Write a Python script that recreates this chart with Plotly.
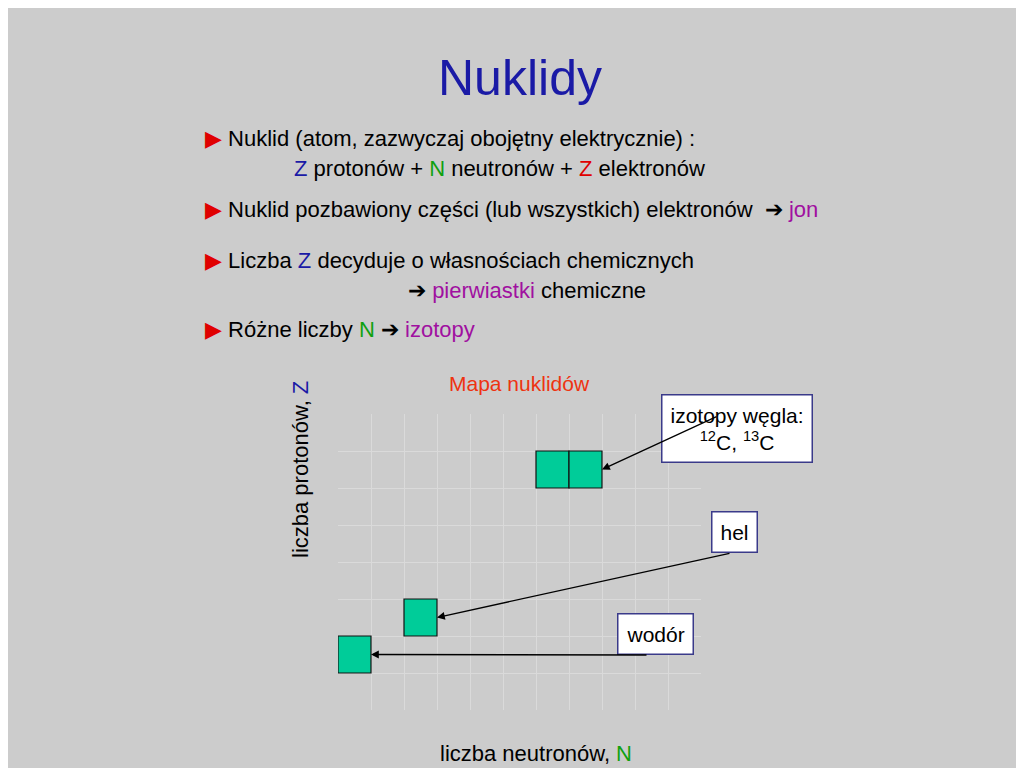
import plotly.graph_objects as go

# nuclide map data
nuklidy = ["H", "He", "12C", "13C"]
n_vals = [0, 2, 6, 7]
z_vals = [1, 2, 6, 6]
x_ticks = [1, 5, 9]
y_ticks = [1, 5]

W, H = 1024, 768
BLUE = "#1a1aa6"
RED = "#e00000"
GREEN = "#10a010"
PURPLE = "#a010a0"
FONT = "Liberation Sans, Arial"


def px(x, y):
    return x / W, 1 - y / H


def to_data(x, y):
    # slide pixel -> data units of the nuclide grid
    return (x - 330) / 33, (702 - y) / 37


fig = go.Figure()

# grid is drawn by the axes, squares through data coords
for n, z in zip(n_vals, z_vals):
    fig.add_shape(type="rect", xref="x", yref="y", x0=n, x1=n + 1, y0=z, y1=z + 1,
                  fillcolor="#00cc99", line=dict(color="#111111", width=1.2))

fig.add_trace(go.Scatter(x=[0], y=[0], mode="markers", marker=dict(opacity=0),
                         hoverinfo="skip", showlegend=False))

anns = []


def text(x, y, s, size=22, color="black", xanchor="left"):
    ax, ay = px(x, y)
    anns.append(dict(x=ax, y=ay, xref="paper", yref="paper", text=s, showarrow=False,
                     xanchor=xanchor, yanchor="middle", font=dict(size=size, color=color, family=FONT)))


def sp(s, c):
    return f"<span style='color:{c}'>{s}</span>"


tri = sp("▶", RED)
text(512, 70, "Nuklidy", size=50, color=BLUE, xanchor="center")
text(195, 130, tri + " Nuklid (atom, zazwyczaj obojętny elektrycznie) :")
text(284, 161, sp("Z", BLUE) + " protonów + " + sp("N", GREEN) + " neutronów + " + sp("Z", RED) + " elektronów")
text(195, 202, tri + " Nuklid pozbawiony części (lub wszystkich) elektronów  ➔ " + sp("jon", PURPLE))
text(195, 252, tri + " Liczba " + sp("Z", BLUE) + " decyduje o własnościach chemicznych")
text(398, 283, "➔ " + sp("pierwiastki", PURPLE) + " chemiczne")
text(195, 322, tri + " Różne liczby " + sp("N", GREEN) + " ➔ " + sp("izotopy", PURPLE))
text(511, 376, "Mapa nuklidów", size=21, color="#ee3311", xanchor="center")

# axis tick labels at cell centres
for v in x_ticks:
    anns.append(dict(x=v + 0.5, y=-0.55, xref="x", yref="y", text=str(v), showarrow=False,
                     font=dict(size=21, color="black", family=FONT)))
for v in y_ticks:
    anns.append(dict(x=-0.5, y=v + 0.5, xref="x", yref="y", text=str(v), showarrow=False,
                     font=dict(size=21, color="black", family=FONT)))

text(528, 745, "liczba neutronów, " + sp("N", GREEN), xanchor="center")
ax, ay = px(278, 552)
anns.append(dict(x=ax, y=ay, xref="paper", yref="paper", text="liczba protonów, " + sp("Z", BLUE),
                 textangle=-90, showarrow=False, font=dict(size=22, color="black", family=FONT)))

# axis arrows
anns.append(dict(x=11.9, y=0, ax=-0.3, ay=0, xref="x", yref="y", axref="x", ayref="y", text="",
                 showarrow=True, arrowhead=2, arrowsize=1, arrowwidth=2, arrowcolor="black"))
anns.append(dict(x=0, y=8.8, ax=0, ay=-0.4, xref="x", yref="y", axref="x", ayref="y", text="",
                 showarrow=True, arrowhead=2, arrowsize=1, arrowwidth=2, arrowcolor="black"))

# labelled boxes with arrows pointing to squares
boxes = [
    ("izotopy węgla:<br><sup>12</sup>C, <sup>13</sup>C", 805, 420, 8, 6.5, 710, 408),
    ("hel", 750, 545, 3, 2.5, 723, 545),
    ("wodór", 686, 647, 1, 1.5, 640, 647),
]
for label, bx, by, tx, ty, sx, sy in boxes:
    x0, y0 = px(bx, by)
    anns.append(dict(x=x0, y=y0, xref="paper", yref="paper", text=label, showarrow=False,
                     bgcolor="white", bordercolor="#3a3a8a", borderwidth=1.5, borderpad=8,
                     font=dict(size=21, color="black", family=FONT)))
    s0, s1 = to_data(sx, sy)
    anns.append(dict(x=tx, y=ty, xref="x", yref="y", ax=s0, ay=s1, axref="x", ayref="y",
                     text="", showarrow=True, arrowhead=2, arrowsize=1.2, arrowwidth=1.3,
                     arrowcolor="black"))

fig.update_layout(
    width=W, height=H, margin=dict(l=0, r=0, t=0, b=0),
    paper_bgcolor="#cccccc", plot_bgcolor="#cccccc",
    annotations=anns, showlegend=False,
    xaxis=dict(domain=[330 / W, 693 / W], range=[0, 11], dtick=1, showticklabels=False,
               gridcolor="#dadada", zeroline=False, fixedrange=True),
    yaxis=dict(domain=[(H - 702) / H, (H - 406) / H], range=[0, 8], dtick=1, showticklabels=False,
               gridcolor="#dadada", zeroline=False, fixedrange=True),
)

fig.write_html("out.html")
